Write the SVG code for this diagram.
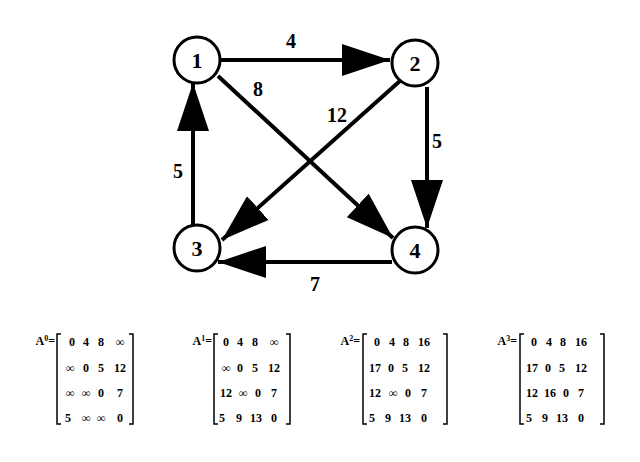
<svg xmlns="http://www.w3.org/2000/svg" width="640" height="462" viewBox="0 0 640 462">
<style>
.n{fill:#fff;stroke:#000;stroke-width:3}
.nl{font:bold 22px "Liberation Serif",serif;text-anchor:middle}
.e{stroke:#000;stroke-width:4;fill:none}
.el{font:bold 20px "Liberation Serif",serif;text-anchor:middle}
.m{font:bold 12px "Liberation Serif",serif;text-anchor:middle}
.ml{font:bold 12px "Liberation Serif",serif;text-anchor:end}
.b{stroke:#000;stroke-width:1.5;fill:none}
</style>
<defs>
<marker id="a" markerWidth="12" markerHeight="8" refX="12" refY="4" orient="auto" markerUnits="strokeWidth"><path d="M0,0L12,4L0,8z" fill="#000"/></marker>
</defs>
<rect width="640" height="462" fill="#fff"/>
<g id="connectors">
<line class="e" x1="220" y1="60" x2="390" y2="60" marker-end="url(#a)"/>
<line class="e" x1="427" y1="87" x2="427" y2="228" marker-end="url(#a)"/>
<line class="e" x1="193" y1="225" x2="193" y2="83" marker-end="url(#a)"/>
<line class="e" x1="392" y1="262" x2="218" y2="262" marker-end="url(#a)"/>
<line class="e" x1="218" y1="76" x2="393" y2="238" marker-end="url(#a)"/>
<line class="e" x1="401" y1="80" x2="222" y2="240" marker-end="url(#a)"/>
<text class="el" x="291" y="48">4</text>
<text class="el" x="258" y="96">8</text>
<text class="el" x="337" y="122">12</text>
<text class="el" x="437" y="148">5</text>
<text class="el" x="178" y="178">5</text>
<text class="el" x="315" y="291">7</text>
</g>
<g id="n1"><circle class="n" cx="197" cy="60" r="23"/><text class="nl" x="197" y="68">1</text></g>
<g id="n2"><circle class="n" cx="415" cy="63" r="23"/><text class="nl" x="415" y="71">2</text></g>
<g id="n3"><circle class="n" cx="197" cy="248" r="23"/><text class="nl" x="197" y="256">3</text></g>
<g id="n4"><circle class="n" cx="415" cy="250" r="23"/><text class="nl" x="415" y="258">4</text></g>
<g id="A0">
<text class="ml" x="55" y="345">A<tspan font-size="8" dy="-4">0</tspan><tspan dy="4">=</tspan></text>
<path class="b" d="M61,334H57V424H61M129,334H133V424H129"/>
<text class="m" x="72" y="346">0</text><text class="m" x="86" y="346">4</text><text class="m" x="101" y="346">8</text><text class="m" x="120" y="346">∞</text>
<text class="m" x="70" y="372">∞</text><text class="m" x="86" y="372">0</text><text class="m" x="101" y="372">5</text><text class="m" x="120" y="372">12</text>
<text class="m" x="70" y="397">∞</text><text class="m" x="86" y="397">∞</text><text class="m" x="101" y="397">0</text><text class="m" x="120" y="397">7</text>
<text class="m" x="68" y="422">5</text><text class="m" x="86" y="422">∞</text><text class="m" x="101" y="422">∞</text><text class="m" x="120" y="422">0</text>
</g>
<g id="A1">
<text class="ml" x="212" y="345">A<tspan font-size="8" dy="-4">1</tspan><tspan dy="4">=</tspan></text>
<path class="b" d="M218,334H214V424H218M286,334H290V424H286"/>
<text class="m" x="226" y="346">0</text><text class="m" x="240" y="346">4</text><text class="m" x="255" y="346">8</text><text class="m" x="274" y="346">∞</text>
<text class="m" x="226" y="372">∞</text><text class="m" x="240" y="372">0</text><text class="m" x="255" y="372">5</text><text class="m" x="274" y="372">12</text>
<text class="m" x="226" y="397">12</text><text class="m" x="243" y="397">∞</text><text class="m" x="258" y="397">0</text><text class="m" x="274" y="397">7</text>
<text class="m" x="222" y="422">5</text><text class="m" x="239" y="422">9</text><text class="m" x="256" y="422">13</text><text class="m" x="274" y="422">0</text>
</g>
<g id="A2">
<text class="ml" x="360" y="345">A<tspan font-size="8" dy="-4">2</tspan><tspan dy="4">=</tspan></text>
<path class="b" d="M367,334H363V424H367M443,334H447V424H443"/>
<text class="m" x="377" y="346">0</text><text class="m" x="392" y="346">4</text><text class="m" x="406" y="346">8</text><text class="m" x="424" y="346">16</text>
<text class="m" x="375" y="372">17</text><text class="m" x="391" y="372">0</text><text class="m" x="405" y="372">5</text><text class="m" x="424" y="372">12</text>
<text class="m" x="375" y="397">12</text><text class="m" x="393" y="397">∞</text><text class="m" x="408" y="397">0</text><text class="m" x="424" y="397">7</text>
<text class="m" x="372" y="422">5</text><text class="m" x="388" y="422">9</text><text class="m" x="405" y="422">13</text><text class="m" x="424" y="422">0</text>
</g>
<g id="A3">
<text class="ml" x="517" y="345">A<tspan font-size="8" dy="-4">3</tspan><tspan dy="4">=</tspan></text>
<path class="b" d="M524,334H520V424H524M600,334H604V424H600"/>
<text class="m" x="534" y="346">0</text><text class="m" x="549" y="346">4</text><text class="m" x="563" y="346">8</text><text class="m" x="581" y="346">16</text>
<text class="m" x="532" y="372">17</text><text class="m" x="548" y="372">0</text><text class="m" x="562" y="372">5</text><text class="m" x="581" y="372">12</text>
<text class="m" x="532" y="397">12</text><text class="m" x="550" y="397">16</text><text class="m" x="566" y="397">0</text><text class="m" x="581" y="397">7</text>
<text class="m" x="529" y="422">5</text><text class="m" x="545" y="422">9</text><text class="m" x="562" y="422">13</text><text class="m" x="581" y="422">0</text>
</g>
</svg>
